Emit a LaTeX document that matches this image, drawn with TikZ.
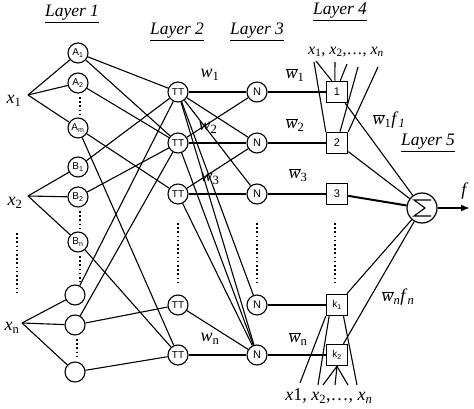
\documentclass[tikz,border=0pt]{standalone}
\usepackage{fontspec}
\setmainfont{Liberation Serif}
\newfontfamily\lsans{Liberation Sans}
\usetikzlibrary{arrows.meta}
\newcommand\xv[2]{\textit{#1}\textsubscript{#2}}
\newcommand\ov[2]{$\overline{\mbox{\textit{#1}}}$\textsubscript{#2}}
\begin{document}
\begin{tikzpicture}[x=1pt,y=-1pt,
  ln/.style={line width=1.1pt},
  mid/.style={line width=1.5pt},
  thk/.style={line width=2pt},
  mf/.style={circle,draw,line width=1.1pt,minimum size=20pt,inner sep=0pt,font=\lsans\fontsize{10}{10}\selectfont},
  sq/.style={rectangle,draw,line width=1.5pt,minimum size=21pt,inner sep=0pt,font=\lsans\fontsize{11}{11}\selectfont},
  lay/.style={font=\fontsize{17.5}{18}\selectfont\itshape},
  lab/.style={font=\fontsize{18}{18}\selectfont,inner sep=0pt},
  dotl/.style={line width=1.2pt,dash pattern=on 1.6pt off 2.6pt}
]
\useasboundingbox (0,0) rectangle (474,409);
% layer labels
\node[lay] (L1) at (72,14) {\underline{Layer 1}};
\node[lay] (L2) at (177,32) {\underline{Layer 2}};
\node[lay] (L3) at (257,32) {\underline{Layer 3}};
\node[lay] (L4) at (340,12) {\underline{Layer 4}};
\node[lay] (L5) at (428,143) {\underline{Layer 5}};
% inputs
\coordinate (j1) at (28,95);
\coordinate (j2) at (28,196);
\coordinate (j3) at (22,323);
\node[lab] (x1) at (14,101) {\xv{x}{1}};
\node[lab] (x2) at (15,203) {\xv{x}{2}};
\node[lab] (xn) at (12,328) {\xv{x}{n}};
% layer 1
\node[mf] (A1) at (78,53) {A\textsubscript{1}};
\node[mf] (A2) at (78,83) {A\textsubscript{2}};
\node[mf] (Am) at (78,128) {A\textsubscript{m}};
\node[mf] (B1) at (78,167) {B\textsubscript{1}};
\node[mf] (B2) at (78,197) {B\textsubscript{2}};
\node[mf] (Bn) at (78,242) {B\textsubscript{n}};
\node[mf] (C1) at (75,295) {};
\node[mf] (C2) at (75,325) {};
\node[mf] (C3) at (75,372) {};
% layer 2
\node[mf] (T1) at (178,92) {TT};
\node[mf] (T2) at (178,143) {TT};
\node[mf] (T3) at (178,194) {TT};
\node[mf] (T4) at (178,305) {TT};
\node[mf] (T5) at (178,355) {TT};
% layer 3
\node[mf,font=\lsans\fontsize{11}{11}\selectfont] (N1) at (257,92) {N};
\node[mf,font=\lsans\fontsize{11}{11}\selectfont] (N2) at (257,143) {N};
\node[mf,font=\lsans\fontsize{11}{11}\selectfont] (N3) at (257,194) {N};
\node[mf,font=\lsans\fontsize{11}{11}\selectfont] (N4) at (257,305) {N};
\node[mf,font=\lsans\fontsize{11}{11}\selectfont] (N5) at (257,355) {N};
% layer 4
\node[sq] (Q1) at (337,92) {1};
\node[sq] (Q2) at (337,143) {2};
\node[sq] (Q3) at (337,194) {3};
\node[sq,font=\lsans\fontsize{10}{10}\selectfont] (K1) at (337,305) {k\textsubscript{1}};
\node[sq,font=\lsans\fontsize{10}{10}\selectfont] (K2) at (337,355) {k\textsubscript{2}};
% layer 5
\node[circle,draw,line width=1.2pt,minimum size=30pt,inner sep=0pt] (S) at (422,208) {};
\draw[line width=1.1pt,shift={(S)}] (9,-8) -- (-8,-8) -- (3,0) -- (-8,8) -- (9,8);
\coordinate (fo) at (470,208);
\draw[thk,-{Latex[length=9pt,width=7pt]}] (S) -- (fo);
\node[lab] (f) at (465,191) {\textit{f}};
% input fan-outs
\foreach \t in {A1,A2,Am} \draw[ln] (j1) -- (\t);
\foreach \t in {B1,B2,Bn} \draw[ln] (j2) -- (\t);
\foreach \t in {C1,C2,C3} \draw[ln] (j3) -- (\t);
% layer 1 -> 2
\draw[ln] (A1) -- (T1); \draw[ln] (A1) -- (T2); \draw[ln] (A2) -- (T2);
\draw[ln] (Am) -- (T3); \draw[ln] (Am) -- (T5);
\draw[ln] (B1) -- (T1); \draw[ln] (B2) -- (T2); \draw[ln] (Bn) -- (T5);
\draw[ln] (C1) -- (T1); \draw[ln] (C2) -- (T2); \draw[ln] (C2) -- (T4); \draw[ln] (C3) -- (T5);
% layer 2 -> 3
\foreach \t in {N1,N2,N3,N4,N5} \draw[ln] (T1) -- (\t);
\foreach \t in {N1,N2,N5} \draw[ln] (T2) -- (\t);
\foreach \t in {N2,N3,N5} \draw[ln] (T3) -- (\t);
\draw[ln] (T4) -- (N5);
\draw[ln] (T5) -- (N5);
% layer 3 -> 4
\draw[mid] (N1) -- (Q1); \draw[mid] (N2) -- (Q2); \draw[thk] (N3) -- (Q3);
\draw[ln] (N4) -- (K1); \draw[mid] (N5) -- (K2);
% layer 4 -> 5
\draw[ln] (Q1) -- (S); \draw[ln] (Q2) -- (S); \draw[thk] (Q3) -- (S);
\draw[ln] (K1) -- (S); \draw[ln] (K2) -- (S);
% top input labels
\node[lab,font=\fontsize{16}{16}\selectfont] (xt) at (346,52) {\xv{x}{1}, \xv{x}{2},\dots, \xv{x}{\textit{n}}};
\coordinate (ta) at (316,61); \coordinate (tb) at (335,62); \coordinate (tc) at (347,64);
\coordinate (td) at (314,62); \coordinate (te) at (358,67); \coordinate (tf) at (378,67);
\draw[ln] (ta) -- (Q1.115); \draw[ln] (tb) -- (Q1.101); \draw[ln] (tc) -- (Q1.74);
\draw[ln] (td) -- (Q2.north west); \draw[ln] (te) -- (Q2.75); \draw[ln] (tf) -- (Q2.north east);
% bottom input labels
\node[lab,font=\fontsize{18}{18}\selectfont] (xb) at (329,396) {\textit{x}1, \xv{x}{2},\dots, \xv{x}{\textit{n}}};
\coordinate (ba) at (300,383); \coordinate (bb) at (318,385); \coordinate (bc) at (357,385);
\coordinate (bd) at (323,385); \coordinate (be) at (335,385); \coordinate (bf) at (348,385);
\draw[ln] (ba) -- (K1.south west); \draw[ln] (bb) -- (K1.235); \draw[ln] (bc) -- (K1.-60);
\draw[ln] (K2.south) -- (bd); \draw[ln] (K2.south) -- (be); \draw[ln] (K2.south) -- (bf);
% weights
\node[lab] (w1) at (210,75) {\xv{w}{1}};
\node[lab] (w2) at (208,128) {\xv{w}{2}};
\node[lab] (w3) at (210,179) {\xv{w}{3}};
\node[lab] (wn) at (210,339) {\xv{w}{n}};
\node[lab] (v1) at (295,75) {\ov{w}{1}};
\node[lab] (v2) at (295,125) {\ov{w}{2}};
\node[lab] (v3) at (298,175) {\ov{w}{3}};
\node[lab] (vn) at (298,339) {\ov{w}{n}};
\node[lab] (g1) at (389,120) {\ov{w}{1}\xv{f}{\textit{1}}};
\node[lab] (gn) at (398,297) {\ov{w}{\textit{n}}\xv{f}{\textit{n}}};
% dots
\draw[dotl] (17,233) -- (17,292);
\draw[dotl] (80,97) -- (80,116);
\draw[dotl] (80,211) -- (80,230);
\draw[dotl] (80,256) -- (80,282);
\draw[dotl] (77,339) -- (77,357);
\draw[dotl] (178,223) -- (178,282);
\draw[dotl] (257,223) -- (257,282);
\draw[dotl] (335,223) -- (335,282);
\end{tikzpicture}
\end{document}
